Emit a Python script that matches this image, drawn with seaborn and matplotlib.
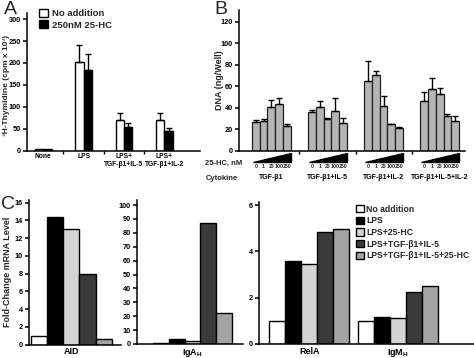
import pandas as pd
import matplotlib
matplotlib.use("Agg")
import matplotlib.pyplot as plt
from matplotlib.patches import Patch
import seaborn as sns

# panel A: 3H-thymidine uptake
a_groups = ["None", "LPS", "LPS+\nTGF-β1+IL-5", "LPS+\nTGF-β1+IL-2"]
a_treat = ["No addition", "250nM 25-HC"]
a_none = [3, 202, 70, 70]
a_none_err = [0, 38, 16, 15]
a_hc = [3, 185, 53, 45]
a_hc_err = [0, 35, 11, 6]

# panel B: DNA per well, 5 doses of 25-HC for each cytokine mix
b_cytokines = ["TGF-β1", "TGF-β1+IL-5", "TGF-β1+IL-2", "TGF-β1+IL-5+IL-2"]
b_doses = ["0", "1", "25", "100", "250"]
b_tgf = [26.6, 27.5, 40.4, 43.1, 22.6]
b_tgf_err = [2.1, 2.2, 6.6, 6.4, 1.9]
b_il5 = [36.1, 40.4, 29.7, 37.3, 26.0]
b_il5_err = [1.5, 5.5, 0.9, 12.2, 4.6]
b_il2 = [64.8, 70.3, 41.6, 24.5, 21.4]
b_il2_err = [19.0, 4.3, 9.2, 0.6, 0.6]
b_il52 = [46.5, 57.8, 53.2, 32.7, 27.5]
b_il52_err = [7.9, 10.1, 5.5, 1.6, 4.9]

# panel C: fold change mRNA
c_conditions = ["No addition", "LPS", "LPS+25-HC", "LPS+TGF-β1+IL-5", "LPS+TGF-β1+IL-5+25-HC"]
c_colors = ["white", "black", "#d4d4d4", "#3a3a3a", "#a3a3a3"]
c_aid = [1, 14.4, 13.0, 7.9, 0.6]
c_iga = [1, 3.5, 2.5, 87, 22]
c_rela = [1, 3.6, 3.45, 4.85, 4.95]
c_igm = [1, 1.15, 1.13, 2.25, 2.5]

sns.set_style("ticks")
plt.rcParams["font.family"] = ["Liberation Sans", "DejaVu Sans"]
plt.rcParams["font.weight"] = "bold"
plt.rcParams["mathtext.fontset"] = "custom"
plt.rcParams["mathtext.rm"] = "Liberation Sans:bold"
plt.rcParams["mathtext.bf"] = "Liberation Sans:bold"
plt.rcParams["axes.linewidth"] = 1.1
plt.rcParams["axes.edgecolor"] = "black"
plt.rcParams["xtick.color"] = "black"
plt.rcParams["ytick.color"] = "black"

W, H = 474, 358
fig = plt.figure(figsize=(W / 100, H / 100), dpi=100)


def px_axes(left, right, top, bottom):
    return fig.add_axes([left / W, 1 - bottom / H, (right - left) / W, (bottom - top) / H])


def add_errors(ax, bar_conts, errs_by_hue):
    for cont, errs in zip(bar_conts, errs_by_hue):
        for bar, e in zip(cont, errs):
            if e > 0:
                ax.errorbar(bar.get_x() + bar.get_width() / 2, bar.get_height(),
                            yerr=[[0], [e]], fmt="none", ecolor="black",
                            elinewidth=1, capsize=2.2, capthick=1)


def style_axes(ax, fs=5.3):
    sns.despine(ax=ax)
    ax.tick_params(axis="y", length=3, width=1.1, labelsize=fs, pad=1.5)
    ax.tick_params(axis="x", length=0, labelsize=fs)
    for lab in ax.get_yticklabels() + ax.get_xticklabels():
        lab.set_fontweight("bold")
    ax.set_xlabel("")


# ---------------- A ----------------
axA = px_axes(27, 200, 13, 150.7)
dfA = pd.DataFrame({
    "group": a_groups * 2,
    "treat": [a_treat[0]] * 4 + [a_treat[1]] * 4,
    "value": a_none + a_hc,
})
sns.barplot(data=dfA, x="group", y="value", hue="treat", order=a_groups, hue_order=a_treat,
            palette=["white", "black"], width=0.42, edgecolor="black", linewidth=1,
            errorbar=None, legend=False, ax=axA)
bars_A = list(axA.containers)
add_errors(axA, bars_A, [a_none_err, a_hc_err])
axA.set_ylim(0, 314)
axA.set_xlim(-0.4, 3.88)
axA.set_yticks(range(0, 301, 50))
axA.set_xticks([0.5, 1.5, 2.5], minor=True)
axA.tick_params(axis="x", which="minor", length=2, width=1)
style_axes(axA)
axA.tick_params(axis="x", labelsize=4.8, pad=2)
axA.set_ylabel("³H-Thymidine (cpm x 10³)", fontsize=6, fontweight="bold")
axA.yaxis.set_label_coords(-0.1, 0.47)
axA.legend(handles=[Patch(facecolor=c, edgecolor="black", linewidth=1) for c in ["white", "black"]],
           labels=a_treat, loc="upper left", bbox_to_anchor=(0.07, 1.03), frameon=False,
           prop={"weight": "bold", "size": 6.8}, handlelength=0.9, handleheight=0.9,
           handletextpad=0.5, labelspacing=0.25, borderpad=0, borderaxespad=0)

# ---------------- B ----------------
axB = px_axes(239, 465, 10, 150.7)
b_vals = [b_tgf, b_il5, b_il2, b_il52]
b_errs = [b_tgf_err, b_il5_err, b_il2_err, b_il52_err]
rows = []
for cyt, vals in zip(b_cytokines, b_vals):
    for dose, v in zip(b_doses, vals):
        rows.append({"cytokine": cyt, "dose": dose, "dna": v})
dfB = pd.DataFrame(rows)
sns.barplot(data=dfB, x="cytokine", y="dna", hue="dose", order=b_cytokines, hue_order=b_doses,
            palette=["#b5b5b5"] * 5, width=0.69, edgecolor="#222222", linewidth=0.9,
            errorbar=None, legend=False, ax=axB)
bars_B = list(axB.containers)
add_errors(axB, bars_B, [[e[j] for e in b_errs] for j in range(len(b_doses))])
axB.set_ylim(0, 131)
axB.set_xlim(-0.575, 3.45)
axB.set_yticks(range(0, 121, 20))
axB.set_xticks([0.5, 1.5, 2.5], minor=True)
axB.tick_params(axis="x", which="minor", length=2, width=1)
style_axes(axB)
axB.tick_params(axis="x", labelsize=5, pad=17)
axB.set_ylabel("DNA (ng/Well)", fontsize=6.5, fontweight="bold")
axB.yaxis.set_label_coords(-0.068, 0.5)
tr = axB.get_xaxis_transform()
first, last = bars_B[0], bars_B[-1]
for i in range(len(b_cytokines)):
    x0 = first[i].get_x() + 0.02
    x1 = last[i].get_x() + last[i].get_width()
    axB.fill([x0, x1, x1], [-0.08, -0.08, -0.016], color="black", transform=tr, clip_on=False)
for cont, dose in zip(bars_B, b_doses):
    for bar in cont:
        axB.text(bar.get_x() + bar.get_width() / 2, -0.11, dose, transform=tr, ha="center",
                 va="center", fontsize=3.8, fontweight="bold")
fig.text(205 / W, 1 - 163 / H, "25-HC, nM", fontsize=5.5, fontweight="bold", va="center")
fig.text(206 / W, 1 - 178 / H, "Cytokine", fontsize=5.5, fontweight="bold", va="center")

# ---------------- C ----------------
def c_panel(ax, genes, series, width, ylim, yticks, xlim):
    rows = []
    for g, vals in zip(genes, series):
        for cond, v in zip(c_conditions, vals):
            rows.append({"gene": g, "cond": cond, "fold": v})
    df = pd.DataFrame(rows)
    sns.barplot(data=df, x="gene", y="fold", hue="cond", order=genes, hue_order=c_conditions,
                palette=c_colors, width=width, edgecolor="black", linewidth=1,
                errorbar=None, legend=False, ax=ax)
    ax.set_ylim(*ylim)
    ax.set_xlim(*xlim)
    ax.set_yticks(yticks)
    style_axes(ax)
    ax.tick_params(axis="x", labelsize=6.5, pad=2)
    ax.set_ylabel("")


axC1 = px_axes(29, 121, 200, 344.5)
c_panel(axC1, ["AID"], [c_aid], 0.88, (0, 16.3), range(0, 17, 2), (-0.46, 0.54))
axC1.set_ylabel("Fold-Change mRNA Level", fontsize=6.5, fontweight="bold")
axC1.yaxis.set_label_coords(-0.18, 0.5)

axC2 = px_axes(137, 243, 200, 344)
c_panel(axC2, [r"IgA$_\mathbf{H}$"], [c_iga], 0.745, (0, 103.6), range(0, 101, 10), (-0.524, 0.476))

axC3 = px_axes(259, 474, 202, 344)
c_panel(axC3, ["RelA", r"IgM$_\mathbf{H}$"], [c_rela, c_igm], 0.9, (0, 6.13), [0, 2, 4, 6], (-0.567, 1.857))
axC3.legend(handles=[Patch(facecolor=c, edgecolor="black", linewidth=1) for c in c_colors],
            labels=c_conditions, loc="upper left", bbox_to_anchor=(0.45, 0.98), frameon=False,
            prop={"weight": "bold", "size": 6.2}, handlelength=0.9, handleheight=0.9,
            handletextpad=0.3, labelspacing=0.3, borderpad=0, borderaxespad=0)

# panel letters
fig.text(4 / W, 1 - 1 / H, "A", fontsize=14, va="top", fontweight="normal")
fig.text(214 / W, 1 - 1 / H, "B", fontsize=14, va="top", fontweight="normal")
fig.text(1 / W, 1 - 196 / H, "C", fontsize=14, va="top", fontweight="normal")

fig.savefig("out.png", dpi=100)
